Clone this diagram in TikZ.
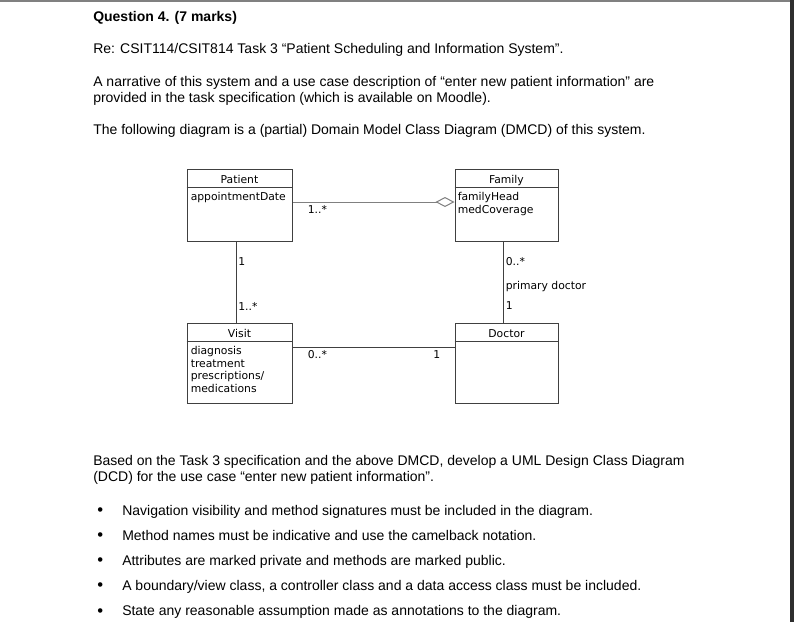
\documentclass[tikz,border=0pt]{standalone}
\usepackage{fontspec}
\setmainfont{Liberation Sans}
\newfontfamily\diagfont{DejaVu Sans}
\usetikzlibrary{arrows.meta,calc}
\tikzset{
  body/.style={anchor=base west, inner sep=0pt, font=\fontsize{10.5pt}{12pt}\selectfont},
  bodybold/.style={body, font=\fontsize{10.5pt}{12pt}\selectfont\bfseries},
  bulletmark/.style={anchor=base west, inner sep=0pt, font=\fontsize{12.5pt}{14pt}\selectfont},
  dtext/.style={anchor=base west, inner sep=0pt, font=\diagfont\fontsize{8.1pt}{9.5pt}\selectfont},
  dtitle/.style={dtext, anchor=base},
  cls/.style={draw=black!75, line width=0.75pt, fill=white, inner sep=0pt, minimum height=#1*0.75pt},
  wideA/.style={minimum width=105*0.75pt},
  wideB/.style={minimum width=103*0.75pt},
  assoc/.style={draw=black!75, line width=0.75pt},
  assocgray/.style={draw=black!50, line width=0.75pt},
  divider/.style={draw=black!75, line width=0.75pt}
}
\begin{document}
\begin{tikzpicture}[x=0.75pt,y=-0.75pt]
\useasboundingbox (0,0) rectangle (794,622);
\fill[white] (0,0) rectangle (794,622);
\fill[black!50] (0,0) rectangle (790,1.5);
\fill[black!82] (790,0) rectangle (794,622);

% header text
\node[bodybold] (q) at (93,21.5) {Question 4. (7 marks)};
\node[body] (re) at (93,53.5) {Re: CSIT114/CSIT814 Task 3 “Patient Scheduling and Information System”.};
\node[body] (nar1) at (93,86) {A narrative of this system and a use case description of “enter new patient information” are};
\node[body] (nar2) at (93,102) {provided in the task specification (which is available on Moodle).};
\node[body] (fol) at (93,134) {The following diagram is a (partial) Domain Model Class Diagram (DMCD) of this system.};

% classes
\node[cls=72, wideA] (patient) at (239.5,205) {};
\node[cls=72, wideB] (family) at (506.5,205) {};
\node[cls=80, wideA] (visit) at (239.5,363) {};
\node[cls=80, wideB] (doctor) at (506.5,363) {};

\draw[divider] ($(patient.north west)+(0,19)$) -- ($(patient.north east)+(0,19)$);
\draw[divider] ($(family.north west)+(0,19)$) -- ($(family.north east)+(0,19)$);
\draw[divider] ($(visit.north west)+(0,19)$) -- ($(visit.north east)+(0,19)$);
\draw[divider] ($(doctor.north west)+(0,19)$) -- ($(doctor.north east)+(0,19)$);

\node[dtitle] (ptitle) at (239.5,183) {Patient};
\node[dtitle] (ftitle) at (506.5,183) {Family};
\node[dtitle] (vtitle) at (239.5,337) {Visit};
\node[dtitle] (dtitle) at (506.5,337) {Doctor};

\node[dtext] (pattr) at (190.5,200) {appointmentDate};
\node[dtext] (fattr1) at (457.5,200) {familyHead};
\node[dtext] (fattr2) at (457.5,213) {medCoverage};
\node[dtext] (vattr1) at (190.5,354.5) {diagnosis};
\node[dtext] (vattr2) at (190.5,367.2) {treatment};
\node[dtext] (vattr3) at (190.5,379.9) {prescriptions/};
\node[dtext] (vattr4) at (190.5,392.5) {medications};

% associations
\draw[assocgray, {Diamond[open,fill=white,length=19*0.75pt,width=10*0.75pt]}-]
  ($(family.west)+(0,-3)$) -- ($(patient.east)+(0,-3)$);
\draw[assoc] ($(patient.south)+(-3.5,0)$) -- ($(visit.north)+(-3.5,0)$);
\draw[assoc] ($(family.south)+(-3.5,0)$) -- ($(doctor.north)+(-3.5,0)$);
\draw[assoc] ($(visit.east)+(0,-16)$) -- ($(doctor.west)+(0,-16)$);

% multiplicities
\node[dtext] (m1) at (307.5,213) {1..*};
\node[dtext] (m2) at (238,265) {1};
\node[dtext] (m3) at (238,310) {1..*};
\node[dtext] (m4) at (307.5,358) {0..*};
\node[dtext, anchor=base east] (m5) at (440.5,358) {1};
\node[dtext] (m6) at (505.5,265) {0..*};
\node[dtext] (role) at (505.5,289.3) {primary doctor};
\node[dtext] (m7) at (505.5,309.5) {1};

% lower text
\node[body] (b1) at (93,465) {Based on the Task 3 specification and the above DMCD, develop a UML Design Class Diagram};
\node[body] (b2) at (93,481) {(DCD) for the use case “enter new patient information”.};

\node[bulletmark] (d1) at (97,515.5) {•};
\node[body] (t1) at (122,515) {Navigation visibility and method signatures must be included in the diagram.};
\node[bulletmark] (d2) at (97,540.5) {•};
\node[body] (t2) at (122,540) {Method names must be indicative and use the camelback notation.};
\node[bulletmark] (d3) at (97,565.5) {•};
\node[body] (t3) at (122,565) {Attributes are marked private and methods are marked public.};
\node[bulletmark] (d4) at (97,590.5) {•};
\node[body] (t4) at (122,590) {A boundary/view class, a controller class and a data access class must be included.};
\node[bulletmark] (d5) at (97,616) {•};
\node[body] (t5) at (122,615.5) {State any reasonable assumption made as annotations to the diagram.};
\end{tikzpicture}
\end{document}
